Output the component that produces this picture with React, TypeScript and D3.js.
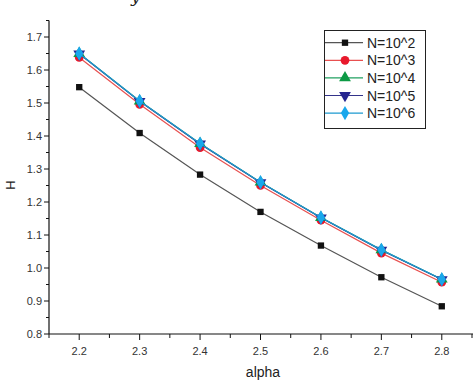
import React from "react";
import * as d3 from "d3";

const alphas = [2.2, 2.3, 2.4, 2.5, 2.6, 2.7, 2.8];
const h2 = [1.548, 1.409, 1.283, 1.17, 1.068, 0.972, 0.884];
const h3 = [1.638, 1.496, 1.365, 1.25, 1.145, 1.045, 0.957];
const h4 = [1.65, 1.506, 1.377, 1.26, 1.153, 1.055, 0.966];
const h5 = [1.649, 1.505, 1.376, 1.259, 1.152, 1.054, 0.965];
const h6 = [1.65, 1.506, 1.377, 1.26, 1.153, 1.055, 0.966];
const seriesNames = ["N=10^2", "N=10^3", "N=10^4", "N=10^5", "N=10^6"];
const xTicks = [2.2, 2.3, 2.4, 2.5, 2.6, 2.7, 2.8];
const yTicks = [0.8, 0.9, 1.0, 1.1, 1.2, 1.3, 1.4, 1.5, 1.6, 1.7];

const W = 474, H = 382;
const x = d3.scaleLinear().domain([2.15, 2.85]).range([49, 472]);
const y = d3.scaleLinear().domain([0.8, 1.75]).range([334, 20.5]);

const styles = [
  { line: "#555", fill: "#111", shape: d3.symbolSquare, size: 40 },
  { line: "#e85050", fill: "#e8192c", shape: d3.symbolCircle, size: 60 },
  { line: "#20a060", fill: "#0d9a45", shape: d3.symbolTriangle, size: 60 },
  { line: "#33338a", fill: "#262690", shape: d3.symbolTriangle, size: 60, rot: 180 },
  { line: "#1d9ad0", fill: "#19a7ec", shape: d3.symbolDiamond, size: 60 },
];
const data = [h2, h3, h4, h5, h6];

export default function App() {
  const font = "Liberation Sans, Arial, sans-serif";
  const line = d3.line<number>().x((_, i) => x(alphas[i])).y((d) => y(d));
  const xMinor = d3.range(2.15, 2.851, 0.1).map((v) => +v.toFixed(2));
  const yMinor = d3.range(0.85, 1.751, 0.1).map((v) => +v.toFixed(2));
  return (
    <svg width={W} height={H} style={{ position: "absolute", left: 0, top: 0, background: "#fff" }}>
      <text x={131} y={2} fontFamily="DejaVu Serif, serif" fontStyle="italic" fontSize={16} fill="#222">y</text>
      {data.map((d, k) => (
        <g key={k}>
          <path d={line(d) || ""} fill="none" stroke={styles[k].line} strokeWidth={1.2} />
          {d.map((v, i) => (
            <path
              key={i}
              d={d3.symbol().type(styles[k].shape).size(styles[k].size)() || ""}
              transform={`translate(${x(alphas[i])},${y(v)}) rotate(${styles[k].rot || 0})`}
              fill={styles[k].fill}
            />
          ))}
        </g>
      ))}
      {/* axes */}
      <line x1={49} x2={49} y1={y(1.75)} y2={334} stroke="#111" strokeWidth={1.2} />
      <line x1={49} x2={473} y1={334} y2={334} stroke="#111" strokeWidth={1.2} />
      {yTicks.map((t) => (
        <g key={t}>
          <line x1={44} x2={49} y1={y(t)} y2={y(t)} stroke="#111" />
          <text x={42} y={y(t) + 4} textAnchor="end" fontFamily={font} fontSize={11} fill="#333">
            {t.toFixed(1)}
          </text>
        </g>
      ))}
      {yMinor.map((t) => (
        <line key={t} x1={46} x2={49} y1={y(t)} y2={y(t)} stroke="#111" />
      ))}
      {xTicks.map((t) => (
        <g key={t}>
          <line x1={x(t)} x2={x(t)} y1={334} y2={340} stroke="#111" />
          <text x={x(t)} y={355} textAnchor="middle" fontFamily={font} fontSize={11} fill="#333">
            {t.toFixed(1)}
          </text>
        </g>
      ))}
      {xMinor.map((t) => (
        <line key={t} x1={x(t)} x2={x(t)} y1={334} y2={338} stroke="#111" />
      ))}
      <text x={263} y={377} textAnchor="middle" fontFamily={font} fontSize={14} fill="#222">alpha</text>
      <text transform="translate(15,185) rotate(-90)" textAnchor="middle" fontFamily={font} fontSize={13} fill="#222">H</text>
      {/* legend */}
      <rect x={324.5} y={30.5} width={101} height={98} fill="#fff" stroke="#222" strokeWidth={1} />
      {seriesNames.map((n, k) => {
        const ly = 42.7 + k * 17.6;
        return (
          <g key={n}>
            <line x1={325} x2={363} y1={ly} y2={ly} stroke={styles[k].line} strokeWidth={1.2} />
            <path
              d={d3.symbol().type(styles[k].shape).size(styles[k].size)() || ""}
              transform={`translate(345,${ly}) rotate(${styles[k].rot || 0})`}
              fill={styles[k].fill}
            />
            <text x={367} y={ly + 5} fontFamily={font} fontSize={14} fill="#222">{n}</text>
          </g>
        );
      })}
    </svg>
  );
}
